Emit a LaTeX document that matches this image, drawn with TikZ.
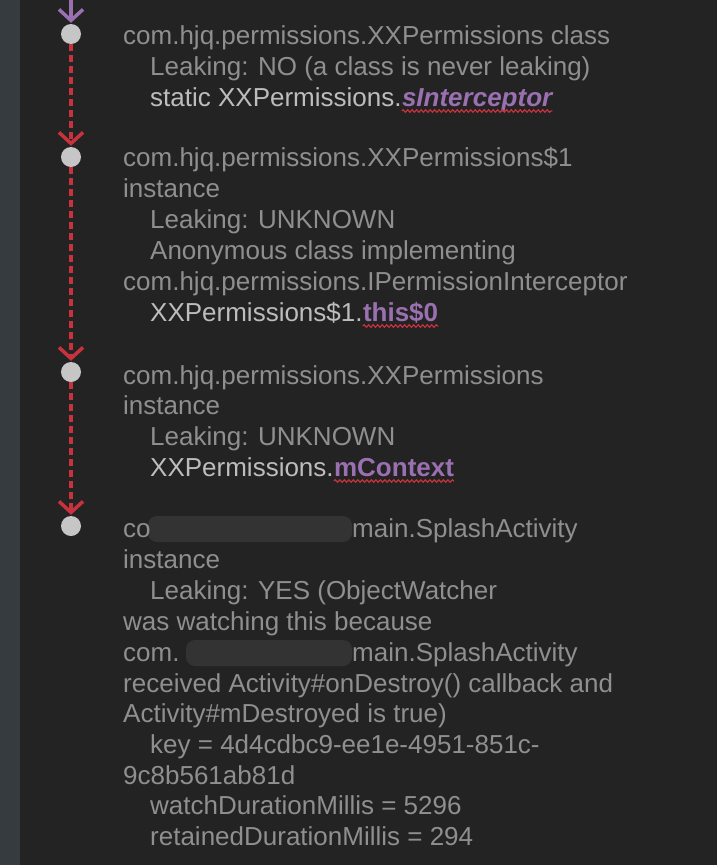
\documentclass[tikz,border=0pt]{standalone}
\usepackage{fontspec}
\newfontfamily\leakfont{Liberation Sans}
\usetikzlibrary{arrows.meta,decorations.pathmorphing}

\definecolor{bgdark}{HTML}{232323}
\definecolor{stripgray}{HTML}{363B3F}
\definecolor{descgray}{HTML}{8F8F8F}
\definecolor{refgray}{HTML}{BDBDBD}
\definecolor{fieldpurple}{HTML}{9A70B0}
\definecolor{dotgray}{HTML}{C6C6C6}
\definecolor{leakred}{HTML}{C8323C}
\definecolor{blurgray}{HTML}{333333}

\tikzset{
  desc/.style={anchor=base west, inner sep=0, text=descgray, font=\leakfont\fontsize{26}{31}\selectfont},
  refline/.style={desc, text=refgray},
  field/.style={anchor=base west, inner sep=0, text=fieldpurple, font=\leakfont\fontsize{26}{31}\selectfont\bfseries},
  dot/.style={circle, fill=dotgray, minimum size=20pt, inner sep=0},
  barb/.style={-{Straight Barb[length=11pt,width=24pt,line width=3.5pt]}},
  leak/.style={draw=leakred, line width=3.5pt, dash pattern=on 7pt off 4pt, barb},
  wavy/.style={draw=leakred, line width=1.2pt, decorate,
               decoration={snake, amplitude=1.2pt, segment length=4.5pt}},
  blurbox/.style={fill=blurgray, rounded corners=9pt}
}

\begin{document}
\begin{tikzpicture}[x=1pt,y=-1pt]
\useasboundingbox (0,0) rectangle (717,865);
\fill[bgdark] (0,0) rectangle (717,865);
\fill[stripgray] (0,0) rectangle (20,865);

% trace dots
\node[dot] (d1) at (71,34) {};
\node[dot] (d2) at (71,157) {};
\node[dot] (d3) at (71,372) {};
\node[dot] (d4) at (71,526) {};
\coordinate (top) at (71,-2);
%
\draw[draw=fieldpurple, line width=3.5pt, barb, shorten >=1pt] (top) -- (d1.north);
\draw[leak, shorten >=1pt] (d1.south) -- (d2.north);
\draw[leak, shorten >=1pt] (d2.south) -- (d3.north);
\draw[leak, shorten >=1pt] (d3.south) -- (d4.north);

% XXPermissions class
\node[desc] (c1) at (123,44) {com.hjq.permissions.XXPermissions class};
\node[desc] (c1l) at (150,75) {Leaking: NO (a class is never leaking)};
\node[refline] (c1r) at (150,106) {static XXPermissions.};
\node[field, font=\leakfont\fontsize{26}{31}\selectfont\bfseries\itshape] (f1) at (c1r.base east) {sInterceptor};
\draw[wavy] ([yshift=-5pt]f1.base west) -- ([yshift=-5pt]f1.base east);

% XXPermissions$1 instance
\node[desc] (c2) at (123,166) {com.hjq.permissions.XXPermissions\$1};
\node[desc] (c2i) at (123,197) {instance};
\node[desc] (c2l) at (150,228) {Leaking: UNKNOWN};
\node[desc] (c2a) at (150,259) {Anonymous class implementing};
\node[desc] (c2b) at (123,290) {com.hjq.permissions.IPermissionInterceptor};
\node[refline] (c2r) at (150,321) {XXPermissions\$1.};
\node[field] (f2) at (c2r.base east) {this\$0};
\draw[wavy] ([yshift=-5pt]f2.base west) -- ([yshift=-5pt]f2.base east);

% XXPermissions instance
\node[desc] (c3) at (123,384) {com.hjq.permissions.XXPermissions};
\node[desc] (c3i) at (123,414) {instance};
\node[desc] (c3l) at (150,445) {Leaking: UNKNOWN};
\node[refline] (c3r) at (150,476) {XXPermissions.};
\node[field] (f3) at (c3r.base east) {mContext};
\draw[wavy] ([yshift=-5pt]f3.base west) -- ([yshift=-5pt]f3.base east);

% SplashActivity instance
\fill[blurbox] (148,516) rectangle (352,542);
\fill[blurbox] (186,640) rectangle (352,666);
\node[desc] (c4) at (123,537) {co};
\node[desc] (c4s) at (352,537) {main.SplashActivity};
\node[desc] (c4i) at (123,568) {instance};
\node[desc] (c4l) at (150,599) {Leaking: YES (ObjectWatcher};
\node[desc] (c4w) at (123,630) {was watching this because};
\node[desc] (c4c) at (123,661) {com.};
\node[desc] (c4t) at (352,661) {main.SplashActivity};
\node[desc] (c4d) at (123,692) {received Activity\#onDestroy() callback and};
\node[desc] (c4m) at (123,722) {Activity\#mDestroyed is true)};
\node[desc] (c4k) at (150,753) {key = 4d4cdbc9-ee1e-4951-851c-};
\node[desc] (c4h) at (123,784) {9c8b561ab81d};
\node[desc] (c4x) at (150,814) {watchDurationMillis = 5296};
\node[desc] (c4y) at (150,845) {retainedDurationMillis = 294};
\end{tikzpicture}
\end{document}
